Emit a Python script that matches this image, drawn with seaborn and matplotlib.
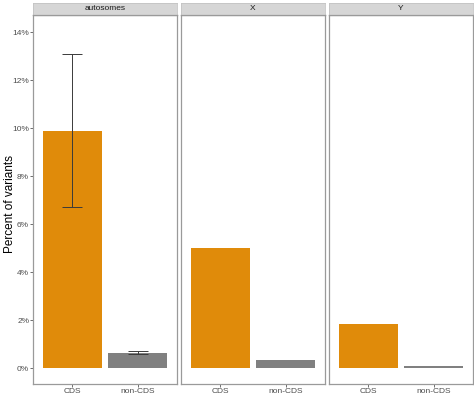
import numpy as np
import pandas as pd
import matplotlib
matplotlib.use('Agg')
import matplotlib.pyplot as plt
from matplotlib.ticker import PercentFormatter
import seaborn as sns

# values (percent of variants)
chroms = ['autosomes', 'X', 'Y']
regions = ['CDS', 'non-CDS']
pct_cds = [9.9, 5.03, 1.83]
pct_noncds = [0.65, 0.37, 0.11]
# error bars only shown for autosomes
err_low = {'autosomes': [6.73, 0.60]}
err_high = {'autosomes': [13.1, 0.74]}

bar_colors = ['#E08B0A', '#808080']

sns.set_style('white')
plt.rcParams['font.family'] = ['Liberation Sans', 'DejaVu Sans']

W, H = 474, 396
fig = plt.figure(figsize=(W / 100, H / 100), dpi=100)

panel_left = [33, 181, 329]
panel_w = 144
panel_top, panel_bot = 15, 384
strip_top = 3
border = '#9a9a9a'

for i, chrom in enumerate(chroms):
    ax = fig.add_axes([panel_left[i] / W, (H - panel_bot) / H,
                       panel_w / W, (panel_bot - panel_top) / H])
    df = pd.DataFrame({'region': regions, 'pct': [pct_cds[i], pct_noncds[i]]})
    sns.barplot(data=df, x='region', y='pct', hue='region', palette=bar_colors,
                saturation=1, width=0.9, linewidth=0, legend=False, ax=ax)
    if chrom in err_low:
        vals = df['pct'].values
        lo = vals - np.array(err_low[chrom])
        hi = np.array(err_high[chrom]) - vals
        ax.errorbar([0, 1], vals, yerr=[lo, hi], fmt='none', ecolor='#3a3a3a',
                    elinewidth=0.7, capsize=7.2, capthick=0.7)
    ax.set_xlim(-0.6, 1.6)
    ax.set_ylim(-0.65, 14.72)
    ax.set_yticks([0, 2, 4, 6, 8, 10, 12, 14])
    ax.yaxis.set_major_formatter(PercentFormatter(xmax=100, decimals=0))
    ax.set_xlabel('')
    ax.set_ylabel('')
    ax.tick_params(axis='both', length=2, width=0.6, color='#555555',
                   labelsize=6, labelcolor='#4d4d4d', pad=0.8,
                   bottom=True, left=(i == 0))
    if i > 0:
        ax.set_yticklabels([])
    for sp in ax.spines.values():
        sp.set_visible(True)
        sp.set_color(border)
        sp.set_linewidth(0.9)

    # facet strip
    sax = fig.add_axes([panel_left[i] / W, (H - panel_top) / H,
                        panel_w / W, (panel_top - strip_top) / H])
    sax.set_facecolor('#d6d6d6')
    sax.set_xticks([])
    sax.set_yticks([])
    for sp in sax.spines.values():
        sp.set_color('#c4c4c4')
        sp.set_linewidth(0.6)
    sax.spines['bottom'].set_color(border)
    sax.spines['bottom'].set_linewidth(0.9)
    sax.text(0.5, 0.5, chrom, ha='center', va='center', fontsize=6,
             color='#1a1a1a', transform=sax.transAxes)

fig.text(10 / W, 1 - 204 / H, 'Percent of variants', rotation=90,
         ha='center', va='center', fontsize=8.5, color='black')

fig.savefig('out.png', dpi=100)
